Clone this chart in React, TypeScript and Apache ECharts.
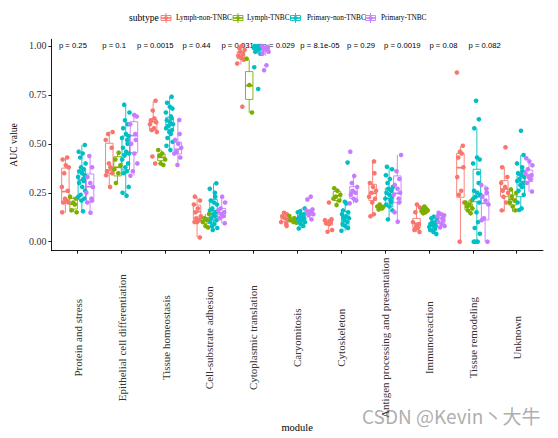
import React, { useEffect, useRef } from "react";
import * as echarts from "echarts";

const categories = [
  "Protein and stress",
  "Epithelial cell differentiation",
  "Tissue homeostasis",
  "Cell-substrate adhesion",
  "Cytoplasmic translation",
  "Caryomitosis",
  "Cytoskeleton",
  "Antigen processing and presentation",
  "Immunoreaction",
  "Tissue remodeling",
  "Unknown",
];

const pLabels = [
  "p = 0.25", "p = 0.1", "p = 0.0015", "p = 0.44", "p = 0.031", "p = 0.029",
  "p = 8.1e-05", "p = 0.29", "p = 0.0019", "p = 0.08", "p = 0.082",
];

const subtypes = ["Lymph-non-TNBC", "Lymph-TNBC", "Primary-non-TNBC", "Primary-TNBC"];
const colors = ["#F8766D", "#7CAE00", "#00BFC4", "#C77CFF"];
const yTicks = [0, 0.25, 0.5, 0.75, 1];

// box stats: [min, Q1, median, Q3, max] per category
const lymphNonBox = [
  [0.148, 0.205, 0.256, 0.376, 0.43],
  [0.281, 0.35, 0.366, 0.503, 0.562],
  [0.562, 0.571, 0.613, 0.625, 0.717],
  [0.022, 0.107, 0.153, 0.187, 0.23],
  [0.906, 0.935, 0.95, 0.97, 1.0],
  [0.08, 0.102, 0.119, 0.136, 0.148],
  [0.051, 0.085, 0.1, 0.11, 0.115],
  [0.131, 0.21, 0.247, 0.293, 0.414],
  [0.051, 0.072, 0.094, 0.119, 0.187],
  [0.0, 0.227, 0.378, 0.451, 0.486],
  [0.153, 0.23, 0.269, 0.312, 0.38],
];
const lymphNonPts = [
  [0.43, 0.42, 0.39, 0.38, 0.35, 0.28, 0.26, 0.22, 0.21, 0.2, 0.2, 0.15],
  [0.56, 0.55, 0.52, 0.48, 0.4, 0.38, 0.36, 0.35, 0.34, 0.28],
  [0.72, 0.67, 0.63, 0.62, 0.61, 0.6, 0.58, 0.57, 0.56, 0.435, 0.4],
  [0.23, 0.21, 0.19, 0.17, 0.15, 0.13, 0.12, 0.11, 0.1, 0.1, 0.022],
  [1.0, 0.99, 0.98, 0.97, 0.96, 0.95, 0.94, 0.93, 0.91, 0.69],
  [0.148, 0.14, 0.13, 0.12, 0.11, 0.1, 0.09, 0.08],
  [0.2, 0.115, 0.11, 0.105, 0.1, 0.095, 0.09, 0.06, 0.051],
  [0.41, 0.35, 0.3, 0.28, 0.26, 0.25, 0.23, 0.22, 0.2, 0.14, 0.13],
  [0.19, 0.175, 0.15, 0.1, 0.09, 0.08, 0.07, 0.06, 0.05],
  [0.864, 0.49, 0.46, 0.45, 0.43, 0.38, 0.33, 0.26, 0.24, 0.2, 0.0],
  [0.482, 0.38, 0.33, 0.3, 0.28, 0.26, 0.25, 0.23, 0.2, 0.16],
];

const lymphTnbcBox = [
  [0.153, 0.167, 0.192, 0.221, 0.23],
  [0.295, 0.336, 0.38, 0.434, 0.455],
  [0.392, 0.414, 0.431, 0.448, 0.468],
  [0.073, 0.094, 0.107, 0.124, 0.141],
  [0.659, 0.727, 0.797, 0.869, 0.932],
  [0.097, 0.106, 0.114, 0.123, 0.131],
  [0.187, 0.21, 0.235, 0.256, 0.273],
  [0.165, 0.172, 0.177, 0.18, 0.19],
  [0.145, 0.15, 0.162, 0.17, 0.18],
  [0.145, 0.162, 0.179, 0.193, 0.21],
  [0.153, 0.187, 0.216, 0.239, 0.267],
];
const lymphTnbcPts = [
  [0.23, 0.22, 0.2, 0.19, 0.16, 0.15],
  [0.455, 0.42, 0.39, 0.37, 0.35, 0.3],
  [0.468, 0.45, 0.44, 0.42, 0.4, 0.392],
  [0.141, 0.12, 0.11, 0.1, 0.08, 0.073],
  [0.935, 0.8, 0.66],
  [0.131, 0.12, 0.115, 0.11, 0.1, 0.097],
  [0.273, 0.26, 0.24, 0.23, 0.22, 0.21, 0.187],
  [0.19, 0.18, 0.178, 0.175, 0.17, 0.165],
  [0.18, 0.17, 0.165, 0.16, 0.155, 0.15, 0.145],
  [0.21, 0.2, 0.19, 0.18, 0.17, 0.16, 0.145],
  [0.267, 0.25, 0.23, 0.21, 0.2, 0.18, 0.16],
];

const primaryNonBox = [
  [0.155, 0.215, 0.315, 0.36, 0.494],
  [0.235, 0.366, 0.448, 0.54, 0.7],
  [0.468, 0.574, 0.596, 0.635, 0.741],
  [0.06, 0.111, 0.158, 0.216, 0.298],
  [0.96, 0.985, 0.995, 1.0, 1.0],
  [0.068, 0.094, 0.119, 0.145, 0.17],
  [0.056, 0.077, 0.119, 0.153, 0.204],
  [0.114, 0.179, 0.221, 0.273, 0.383],
  [0.039, 0.06, 0.08, 0.097, 0.128],
  [0.0, 0.204, 0.23, 0.37, 0.579],
  [0.162, 0.23, 0.307, 0.337, 0.443],
];
const primaryNonPts = [
  [0.494, 0.46, 0.45, 0.43, 0.4, 0.38, 0.37, 0.36, 0.35, 0.34, 0.33, 0.32, 0.31, 0.3, 0.28, 0.26, 0.24, 0.23, 0.22, 0.21, 0.155],
  [0.7, 0.66, 0.62, 0.6, 0.58, 0.55, 0.54, 0.53, 0.52, 0.5, 0.48, 0.46, 0.45, 0.44, 0.42, 0.4, 0.38, 0.36, 0.35, 0.28, 0.25, 0.235],
  [0.741, 0.71, 0.69, 0.68, 0.66, 0.64, 0.63, 0.62, 0.61, 0.6, 0.59, 0.58, 0.57, 0.56, 0.55, 0.53, 0.51, 0.49, 0.468],
  [0.298, 0.27, 0.25, 0.23, 0.21, 0.2, 0.19, 0.17, 0.16, 0.15, 0.14, 0.13, 0.12, 0.11, 0.1, 0.09, 0.08, 0.07, 0.06],
  [1.0, 1.0, 1.0, 1.0, 0.995, 0.99, 0.99, 0.985, 0.98, 0.97, 0.96, 0.891, 0.78],
  [0.17, 0.155, 0.15, 0.14, 0.135, 0.13, 0.125, 0.12, 0.115, 0.11, 0.105, 0.1, 0.09, 0.08, 0.068],
  [0.404, 0.204, 0.195, 0.16, 0.15, 0.14, 0.13, 0.125, 0.12, 0.11, 0.1, 0.09, 0.08, 0.07, 0.056],
  [0.383, 0.37, 0.34, 0.32, 0.3, 0.28, 0.27, 0.26, 0.25, 0.24, 0.23, 0.22, 0.21, 0.2, 0.19, 0.18, 0.16, 0.114],
  [0.128, 0.12, 0.11, 0.1, 0.095, 0.09, 0.085, 0.08, 0.075, 0.07, 0.065, 0.06, 0.05, 0.039],
  [0.72, 0.625, 0.579, 0.43, 0.42, 0.4, 0.35, 0.3, 0.26, 0.25, 0.24, 0.23, 0.22, 0.2, 0.15, 0.1, 0.07, 0.04, 0.0, 0.0, 0.0],
  [0.567, 0.443, 0.4, 0.38, 0.36, 0.35, 0.34, 0.33, 0.32, 0.31, 0.3, 0.29, 0.28, 0.26, 0.24, 0.2, 0.17, 0.162],
];

const primaryTnbcBox = [
  [0.148, 0.204, 0.281, 0.346, 0.438],
  [0.337, 0.455, 0.542, 0.613, 0.647],
  [0.392, 0.448, 0.472, 0.508, 0.622],
  [0.094, 0.124, 0.148, 0.17, 0.23],
  [0.95, 0.97, 0.985, 0.995, 1.0],
  [0.114, 0.136, 0.148, 0.158, 0.165],
  [0.196, 0.221, 0.252, 0.281, 0.336],
  [0.102, 0.199, 0.247, 0.336, 0.443],
  [0.073, 0.094, 0.119, 0.136, 0.148],
  [0.0, 0.111, 0.196, 0.239, 0.29],
  [0.256, 0.307, 0.341, 0.366, 0.426],
];
const primaryTnbcPts = [
  [0.438, 0.38, 0.33, 0.3, 0.28, 0.25, 0.22, 0.21, 0.2, 0.148],
  [0.647, 0.64, 0.6, 0.55, 0.52, 0.5, 0.45, 0.4, 0.36, 0.337],
  [0.622, 0.55, 0.52, 0.5, 0.48, 0.46, 0.45, 0.43, 0.392],
  [0.23, 0.2, 0.17, 0.16, 0.15, 0.14, 0.13, 0.12, 0.094],
  [1.0, 0.995, 0.99, 0.985, 0.98, 0.97, 0.96, 0.901, 0.876],
  [0.23, 0.216, 0.165, 0.16, 0.155, 0.15, 0.14, 0.135, 0.114],
  [0.46, 0.336, 0.3, 0.28, 0.26, 0.25, 0.24, 0.22, 0.21, 0.196],
  [0.443, 0.36, 0.32, 0.29, 0.27, 0.25, 0.24, 0.22, 0.2, 0.15, 0.102],
  [0.148, 0.14, 0.135, 0.13, 0.12, 0.11, 0.1, 0.09, 0.08, 0.073],
  [0.29, 0.27, 0.25, 0.23, 0.21, 0.19, 0.12, 0.11, 0.0],
  [0.426, 0.41, 0.39, 0.37, 0.35, 0.34, 0.33, 0.32, 0.3, 0.256],
];

const boxSets = [lymphNonBox, lymphTnbcBox, primaryNonBox, primaryTnbcBox];
const pointSets = [lymphNonPts, lymphTnbcPts, primaryNonPts, primaryTnbcPts];

// layout constants
const DODGE = [-0.28125, -0.09375, 0.09375, 0.28125];
const BOX_W = 0.17;
const JITTER_W = 0.09;
// fixed (non-random) spread pattern for the jittered points
const SPREAD = [0.45, -0.7, 0.1, 0.85, -0.3, -0.9, 0.6, -0.1, 0.3, -0.55, 0.75, -0.8, 0.2, -0.4, 0.95, -0.2, 0.5, -0.65, 0.05, 0.7, -0.95, 0.35];

const SERIF = "'Liberation Serif', 'Times New Roman', serif";
const SANS = "'Liberation Sans', Arial, sans-serif";

export default function App() {
  const ref = useRef<HTMLDivElement>(null);

  useEffect(() => {
    if (!ref.current) return;
    const chart = echarts.init(ref.current, null, { renderer: "svg" });

    const boxSeries = subtypes.map((name, g) => ({
      type: "custom",
      name,
      encode: { x: 0, y: [1, 2, 3, 4, 5] },
      data: boxSets[g].map((b, i) => [i + DODGE[g], ...b]),
      z: 2,
      renderItem: (params: any, api: any) => {
        const x = api.value(0);
        const pMin = api.coord([x, api.value(1)]);
        const pQ1 = api.coord([x, api.value(2)]);
        const pMed = api.coord([x, api.value(3)]);
        const pQ3 = api.coord([x, api.value(4)]);
        const pMax = api.coord([x, api.value(5)]);
        const w = api.size([BOX_W, 0])[0];
        const cx = pMed[0];
        const st = { stroke: colors[g], lineWidth: 0.9, fill: "none" };
        return {
          type: "group",
          children: [
            { type: "line", shape: { x1: cx, y1: pMax[1], x2: cx, y2: pQ3[1] }, style: st },
            { type: "line", shape: { x1: cx, y1: pQ1[1], x2: cx, y2: pMin[1] }, style: st },
            { type: "rect", shape: { x: cx - w / 2, y: pQ3[1], width: w, height: pQ1[1] - pQ3[1] }, style: st },
            { type: "line", shape: { x1: cx - w / 2, y1: pMed[1], x2: cx + w / 2, y2: pMed[1] }, style: { ...st, lineWidth: 1.7 } },
          ],
        };
      },
    }));

    const pointSeries = subtypes.map((name, g) => {
      const data: number[][] = [];
      pointSets[g].forEach((vals, i) => {
        vals.forEach((v, k) => {
          const s = SPREAD[(k + i * 3 + g * 5) % SPREAD.length];
          data.push([i + DODGE[g] + s * JITTER_W, v]);
        });
      });
      return {
        type: "scatter",
        name,
        data,
        symbolSize: 4.6,
        itemStyle: { color: colors[g], opacity: 1 },
        z: 4,
        silent: true,
      };
    });

    const pSeries = {
      type: "custom",
      name: "p",
      encode: { x: 0, y: 1 },
      data: pLabels.map((_, i) => [i * 0.938 - 0.11, 1.0, i]),
      z: 3,
      renderItem: (params: any, api: any) => {
        const p = api.coord([api.value(0), api.value(1)]);
        return {
          type: "text",
          x: p[0],
          y: p[1],
          style: {
            text: pLabels[api.value(2)],
            fill: "#000",
            fontSize: 7.7,
            fontFamily: SANS,
            align: "center",
            verticalAlign: "middle",
          },
        };
      },
    };

    const keyX = [160, 232, 289.5, 364.5];
    const textX = [176, 247, 307, 381];
    const legendEls: any[] = [
      {
        type: "text",
        left: 129,
        top: 12.5,
        style: { text: "subtype", fontSize: 9.6, fontFamily: SERIF, fill: "#000" },
      },
    ];
    subtypes.forEach((name, g) => {
      const c = colors[g];
      legendEls.push({
        type: "group",
        x: keyX[g],
        y: 13,
        children: [
          { type: "line", shape: { x1: 6, y1: 0, x2: 6, y2: 2.5 }, style: { stroke: c, lineWidth: 0.9 } },
          { type: "line", shape: { x1: 6, y1: 7.5, x2: 6, y2: 10 }, style: { stroke: c, lineWidth: 0.9 } },
          { type: "rect", shape: { x: 1, y: 2.5, width: 10, height: 5 }, style: { stroke: c, fill: "none", lineWidth: 0.9 } },
          { type: "line", shape: { x1: 1, y1: 5, x2: 11, y2: 5 }, style: { stroke: c, lineWidth: 1.6 } },
          { type: "circle", shape: { cx: 6, cy: 5, r: 1.9 }, style: { fill: c } },
        ],
      });
      legendEls.push({
        type: "text",
        left: textX[g],
        top: 14.3,
        style: { text: name, fontSize: 7.3, fontFamily: SERIF, fill: "#000" },
      });
    });
    legendEls.push({
      type: "text",
      left: 362,
      top: 406,
      style: {
        text: "CSDN @Kevin丶大牛",
        fontSize: 19,
        fontFamily: "'Noto Sans CJK SC', 'Noto Sans', sans-serif",
        fill: "rgba(160,160,160,0.85)",
      },
    });

    const option: any = {
      animation: false,
      backgroundColor: "#fff",
      grid: { left: 45, right: 15, top: 39.3, bottom: 187.3, containLabel: false },
      xAxis: {
        type: "value",
        min: -0.6,
        max: 10.6,
        name: "module",
        nameLocation: "middle",
        nameGap: 168,
        nameTextStyle: { fontSize: 10.5, fontFamily: SERIF, color: "#000" },
        axisLine: { show: true, onZero: false, lineStyle: { color: "#000", width: 0.9 } },
        axisTick: { show: true, length: 3, lineStyle: { color: "#000", width: 0.9 }, customValues: categories.map((_, i) => i) },
        splitLine: { show: false },
        axisLabel: {
          customValues: categories.map((_, i) => i),
          formatter: (v: number) => categories[Math.round(v)] ?? "",
          rotate: 90,
          align: "center",
          verticalAlign: "middle",
          margin: 87,
          padding: [6, 0, 0, 0],
          fontSize: 11,
          fontFamily: SERIF,
          color: "#333",
        },
      },
      yAxis: {
        type: "value",
        min: -0.046,
        max: 1.034,
        name: "AUC value",
        nameLocation: "middle",
        nameGap: 25,
        nameTextStyle: { fontSize: 9.6, fontFamily: SERIF, color: "#000" },
        axisLine: { show: true, onZero: false, lineStyle: { color: "#000", width: 0.9 } },
        axisTick: { show: true, length: 3, lineStyle: { color: "#000", width: 0.9 }, customValues: yTicks },
        splitLine: { show: false },
        axisLabel: {
          customValues: yTicks,
          formatter: (v: number) => v.toFixed(2),
          margin: 5,
          fontSize: 10,
          fontFamily: SERIF,
          color: "#333",
        },
      },
      graphic: legendEls,
      series: [...boxSeries, pSeries, ...pointSeries],
    };

    chart.setOption(option);
    return () => chart.dispose();
  }, []);

  return (
    <div
      ref={ref}
      style={{ position: "fixed", left: 0, top: 0, width: 558, height: 438, background: "#fff" }}
    />
  );
}
